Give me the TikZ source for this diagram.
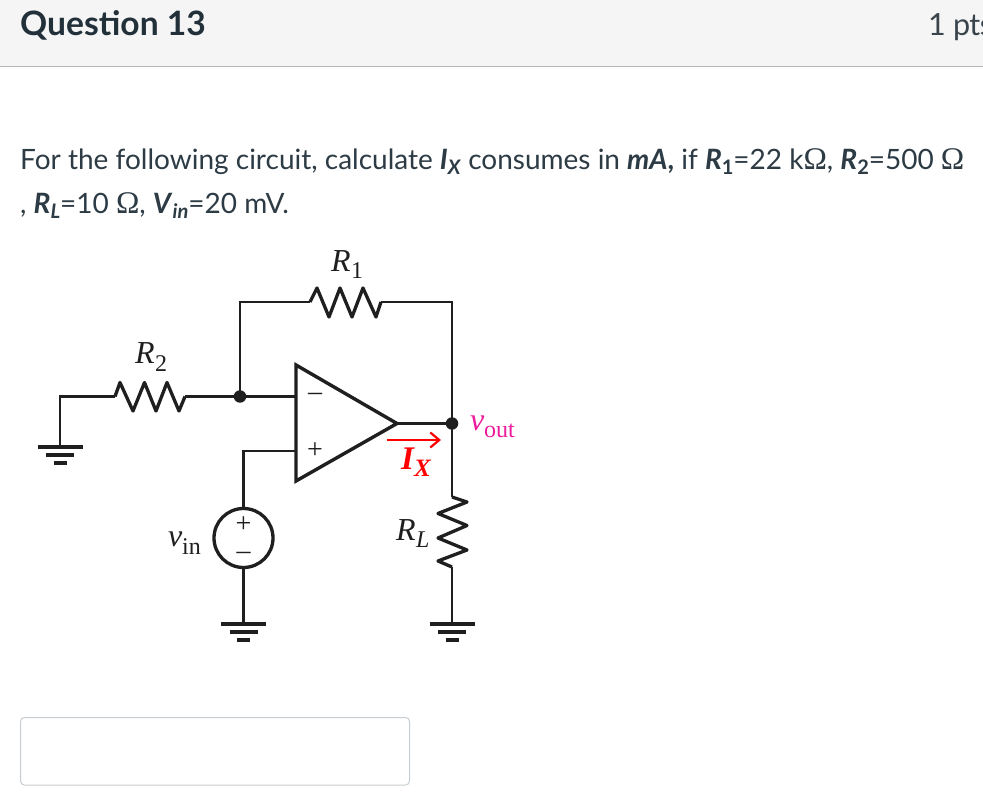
\documentclass[tikz,border=0pt]{standalone}
\usepackage{fontspec}
\setmainfont{Lato}
\newfontfamily\circfont{Liberation Serif}
\usetikzlibrary{arrows.meta}
\definecolor{inktext}{HTML}{2D3B45}
\definecolor{headink}{HTML}{22303A}
\definecolor{ptsink}{HTML}{3A444C}
\definecolor{headbg}{HTML}{F5F5F5}
\definecolor{rulegrey}{HTML}{B4B7B9}
\definecolor{boxgrey}{HTML}{C7CDD1}
\definecolor{wirek}{HTML}{1F1F1F}
\definecolor{vpink}{HTML}{EC1C9C}
\newcommand{\lowtx}[1]{\raisebox{-5pt}{\fontsize{20}{20}\selectfont #1}}
\newcommand{\omg}{{\circfont\fontsize{31.5}{31.5}\selectfont Ω}}
\tikzset{
  wire/.style={draw=wirek,line width=2.7pt,line join=miter},
  thick wire/.style={draw=wirek,line width=3.3pt,line join=round},
  dotn/.style={circle,fill=wirek,inner sep=0pt,minimum size=12.5pt},
  txt/.style={anchor=base west,inner sep=0pt,text=inktext,font=\fontsize{28}{28}\selectfont},
  head/.style={anchor=base west,inner sep=0pt,text=headink,font=\bfseries\fontsize{33.6}{33.6}\selectfont},
  ptstxt/.style={anchor=base west,inner sep=0pt,text=ptsink,font=\addfontfeature{LetterSpace=-2}\fontsize{30.5}{30.5}\selectfont},
  lab/.style={anchor=base west,inner sep=0pt,text=wirek,font=\circfont\fontsize{32}{32}\selectfont},
  sublab/.style={anchor=base west,inner sep=0pt,text=wirek,font=\circfont\fontsize{24}{24}\selectfont},
  sign/.style={inner sep=0pt,text=wirek,font=\circfont\fontsize{28}{28}\selectfont},
  gndsym/.pic={
    \draw[thick wire] (-22.5,0) -- (22.5,0);
    \draw[thick wire] (-14,8) -- (14,8);
    \draw[thick wire] (-6.5,16) -- (6.5,16);
  }
}
\begin{document}
\begin{tikzpicture}[x=1pt,y=-1pt]
\useasboundingbox (0,0) rectangle (983,799);
\clip (0,0) rectangle (983,799);
\fill[white] (0,0) rectangle (983,799);
\fill[headbg] (0,0) rectangle (983,67);
% page furniture
\node[head] (qtitle) at (20,36) {Question 13};
\node[ptstxt] (qpts) at (928,36) {1 pts};
\draw[rulegrey,line width=1pt] (0,67) -- (983,67);
\node[txt] (lineone) at (20,170) {For the following circuit, calculate \textbf{\textit{I}}\lowtx{\textbf{\textit{X}}} consumes in \textbf{\textit{mA},} if \textbf{\textit{R}}\lowtx{\textbf{1}}=22 k\omg, \textbf{\textit{R}}\lowtx{\textbf{2}}=500 \omg};
\node[txt] (linetwo) at (20,214) {, \textbf{\textit{R}}\lowtx{\textbf{\textit{L}}}=10 \omg, \textbf{\textit{V}}\lowtx{\textbf{\textit{in}}}=20 mV.};
\draw[boxgrey,line width=1pt,rounded corners=4pt,fill=white] (20.5,717.5) rectangle (409.5,785);
% circuit points
\coordinate (gl) at (60,447);
\coordinate (gm) at (243.5,624);
\coordinate (gr) at (452,624);
\coordinate (r2a) at (115,396.5);
\coordinate (r2b) at (185,396.5);
\coordinate (r1a) at (310,302);
\coordinate (r1b) at (381,302);
\coordinate (cornerL) at (240,302);
\coordinate (cornerR) at (452,302);
\coordinate (cornerG) at (60,396.5);
\coordinate (rla) at (452,497);
\coordinate (rlb) at (452,567);
\coordinate (cornerP) at (243.5,451);
\coordinate (oaTop) at (296,365);
\coordinate (oaBot) at (296,481);
\coordinate (oaOut) at (397,423.5);
\coordinate (inM) at (296,396.5);
\coordinate (inP) at (296,451);
\coordinate (arL) at (387,440);
\coordinate (arR) at (441,440);
\node[dotn] (nj) at (240,396.5) {};
\node[dotn] (nout) at (452,423.5) {};
\node[circle,draw=wirek,line width=3.3pt,inner sep=0pt,minimum size=59pt] (src) at (243.5,538) {};
% wires
\draw[wire] (gl) -- (cornerG) -- (r2a);
\draw[wire] (r2b) -- (nj.center) -- (inM);
\draw[wire] (nj.center) -- (cornerL) -- (r1a);
\draw[wire] (r1b) -- (cornerR) -- (rla);
\draw[wire] (oaOut) -- (nout.center);
\draw[wire] (rlb) -- (gr);
\draw[wire] (inP) -- (cornerP) -- (src.north);
\draw[wire] (src.south) -- (gm);
% resistors
\draw[thick wire] (r2a) -- (120,382.5) -- (133,411) -- (144.5,382.5) -- (156,411) -- (167,382.5) -- (179,411) -- (r2b);
\draw[thick wire] (r1a) -- (317,288) -- (329,317) -- (340,288) -- (352,317) -- (363,288) -- (376,317) -- (r1b);
\draw[thick wire] (rla) -- (467,502) -- (438,513.5) -- (467,525.5) -- (438,538) -- (467,550) -- (438,561) -- (rlb);
% op-amp
\draw[thick wire,line join=miter,line width=3.4pt] (oaTop) -- (oaOut) -- (oaBot) -- cycle;
% grounds
\pic at (gl) {gndsym};
\pic at (gm) {gndsym};
\pic at (gr) {gndsym};
% current arrow
\draw[red,line width=2.2pt,-{Straight Barb[length=9pt,width=15pt,line width=2.2pt]}] (arL) -- (arR);
% signs
\node[sign] (opm) at (315,397) {–};
\node[sign] (opp) at (315,451) {+};
\node[sign] (srcp) at (243.5,525) {+};
\node[sign] (srcm) at (243.5,556) {–};
% labels
\node[lab] (lr1) at (331,272) {\textit{R}};
\node[sublab] (lr1s) at (351,279) {1};
\node[lab] (lr2) at (135,364) {\textit{R}};
\node[sublab] (lr2s) at (155,372) {2};
\node[lab] (lrl) at (396,540) {\textit{R}};
\node[sublab] (lrls) at (416,547) {\textit{L}};
\node[lab] (lvin) at (168,546) {\textit{v}};
\node[sublab] (lvins) at (182,554) {in};
\node[lab,text=vpink] (lvo) at (470,431) {\textit{v}};
\node[sublab,text=vpink] (lvos) at (484,438) {out};
\node[lab,text=red,font=\circfont\bfseries\itshape\fontsize{33}{33}\selectfont] (lix) at (401,470) {I};
\node[lab,text=red,font=\circfont\bfseries\itshape\fontsize{25}{25}\selectfont] (lixs) at (414,477) {X};
\end{tikzpicture}
\end{document}
